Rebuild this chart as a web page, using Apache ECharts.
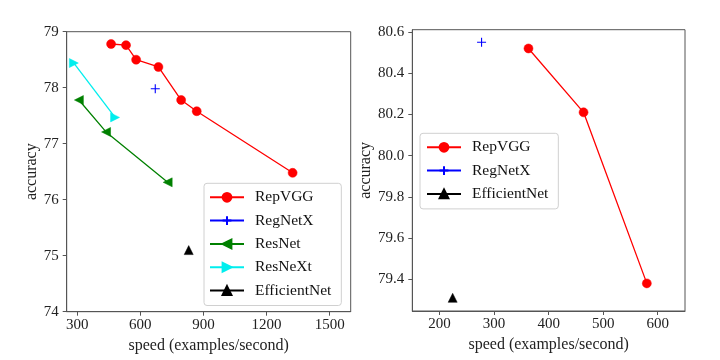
<!DOCTYPE html>
<html><head><meta charset="utf-8">
<script src="https://cdn.jsdelivr.net/npm/echarts@6/dist/echarts.min.js"></script>
<style>html,body{margin:0;padding:0;background:#fff}#c{width:720px;height:360px}</style>
</head><body><div id="c"></div>
<script>
// Left panel data
const repvggSpeedL = [461, 532, 580, 686, 794, 868, 1324];
const repvggAccL   = [78.78, 78.76, 78.50, 78.37, 77.78, 77.58, 76.48];
const regnetSpeedL = [671];
const regnetAccL   = [77.98];
const resnetSpeed  = [308, 437, 730];
const resnetAcc    = [77.78, 77.21, 76.31];
const resnextSpeed = [284, 480];
const resnextAcc   = [78.44, 77.47];
const effSpeedL    = [830];
const effAccL      = [75.10];
// Right panel data
const repvggSpeedR = [363, 464, 580];
const repvggAccR   = [80.52, 80.21, 79.38];
const regnetSpeedR = [277];
const regnetAccR   = [80.55];
const effSpeedR    = [224];
const effAccR      = [79.31];
// Tick labels
const xTicksL = [300, 600, 900, 1200, 1500];
const yTicksL = [74, 75, 76, 77, 78, 79];
const xTicksR = [200, 300, 400, 500, 600];
const yTicksR = [79.4, 79.6, 79.8, 80.0, 80.2, 80.4, 80.6];

const zip = (a, b) => a.map((v, i) => [v, b[i]]);
const FONT = '"Liberation Serif", "Times New Roman", serif';
const PLUS = 'path://M5,0 L5,10 M0,5 L10,5';
const TRI_L = 'path://M0,5 L10,0 L10,10 Z';
const TRI_R = 'path://M10,5 L0,0 L0,10 Z';

function axisCommon(ticks, fmt, margin) {
  return {
    axisLine: {show: true, onZero: false, lineStyle: {color: '#555', width: 1}},
    axisTick: {show: true, inside: false, length: 4, customValues: ticks, lineStyle: {color: '#555'}},
    axisLabel: {customValues: ticks, color: '#222', fontFamily: FONT, fontSize: 15, formatter: fmt, margin: margin},
    splitLine: {show: false},
    nameTextStyle: {color: '#222', fontFamily: FONT, fontSize: 16}
  };
}

function series(name, xi, yi, xs, ys, color, symbol, size, extra) {
  return Object.assign({
    name, type: 'line', xAxisIndex: xi, yAxisIndex: yi,
    data: zip(xs, ys), symbol, symbolSize: size, showSymbol: true,
    lineStyle: {color, width: 1.3},
    itemStyle: {color, borderColor: color, borderWidth: 0.5},
    animation: false, z: 3
  }, extra || {});
}

const plusStyle = c => ({itemStyle: {color: 'rgba(0,0,0,0)', borderColor: c, borderWidth: 1.1}});

const legendCommon = {
  orient: 'vertical', itemWidth: 34, itemHeight: 11, itemGap: 7.3,
  backgroundColor: 'rgba(255,255,255,0.85)', borderColor: '#d0d0d0', borderWidth: 1, borderRadius: 3,
  textStyle: {fontFamily: FONT, fontSize: 15.5, color: '#111', lineHeight: 16, padding: [0, 0, 0, 6]},
  selectedMode: false
};

const chart = echarts.init(document.getElementById('c'), null, {renderer: 'canvas'});
chart.setOption({
  backgroundColor: '#fff',
  animation: false,
  grid: [
    {left: 66.7, top: 31.7, width: 284, height: 280, show: true, borderColor: '#555', borderWidth: 1, backgroundColor: 'transparent'},
    {left: 412.3, top: 29.7, width: 272.7, height: 281.3, show: true, borderColor: '#555', borderWidth: 1, backgroundColor: 'transparent'}
  ],
  xAxis: [
    Object.assign(axisCommon(xTicksL, v => String(v), 6), {type: 'value', gridIndex: 0, min: 250, max: 1600,
      name: 'speed (examples/second)', nameLocation: 'middle', nameGap: 22}),
    Object.assign(axisCommon(xTicksR, v => String(v), 6), {type: 'value', gridIndex: 1, min: 150, max: 650,
      name: 'speed (examples/second)', nameLocation: 'middle', nameGap: 22})
  ],
  yAxis: [
    Object.assign(axisCommon(yTicksL, v => String(Math.round(v)), 8), {type: 'value', gridIndex: 0, min: 74, max: 79,
      name: 'accuracy', nameLocation: 'middle', nameGap: 26}),
    Object.assign(axisCommon(yTicksR, v => v.toFixed(1), 8), {type: 'value', gridIndex: 1, min: 79.246, max: 80.611,
      name: 'accuracy', nameLocation: 'middle', nameGap: 37})
  ],
  legend: [
    Object.assign({}, legendCommon, {left: 204, top: 183.3, padding: [6, 10, 7, 5],
      data: ['RepVGG', 'RegNetX', 'ResNet', 'ResNeXt', 'EfficientNet']}),
    Object.assign({}, legendCommon, {left: 420, top: 133.3, padding: [6, 10, 7, 6],
      data: ['RepVGG ', 'RegNetX ', 'EfficientNet '], formatter: n => n.trim()})
  ],
  series: [
    series('RepVGG', 0, 0, repvggSpeedL, repvggAccL, '#ff0000', 'circle', 9),
    series('RegNetX', 0, 0, regnetSpeedL, regnetAccL, '#0000ff', PLUS, 9, plusStyle('#0000ff')),
    series('ResNet', 0, 0, resnetSpeed, resnetAcc, '#008000', TRI_L, 9),
    series('ResNeXt', 0, 0, resnextSpeed, resnextAcc, '#00eeee', TRI_R, 9),
    series('EfficientNet', 0, 0, effSpeedL, effAccL, '#000000', 'triangle', 9),
    series('RepVGG ', 1, 1, repvggSpeedR, repvggAccR, '#ff0000', 'circle', 9),
    series('RegNetX ', 1, 1, regnetSpeedR, regnetAccR, '#0000ff', PLUS, 9, plusStyle('#0000ff')),
    series('EfficientNet ', 1, 1, effSpeedR, effAccR, '#000000', 'triangle', 9)
  ]
});
</script></body></html>
